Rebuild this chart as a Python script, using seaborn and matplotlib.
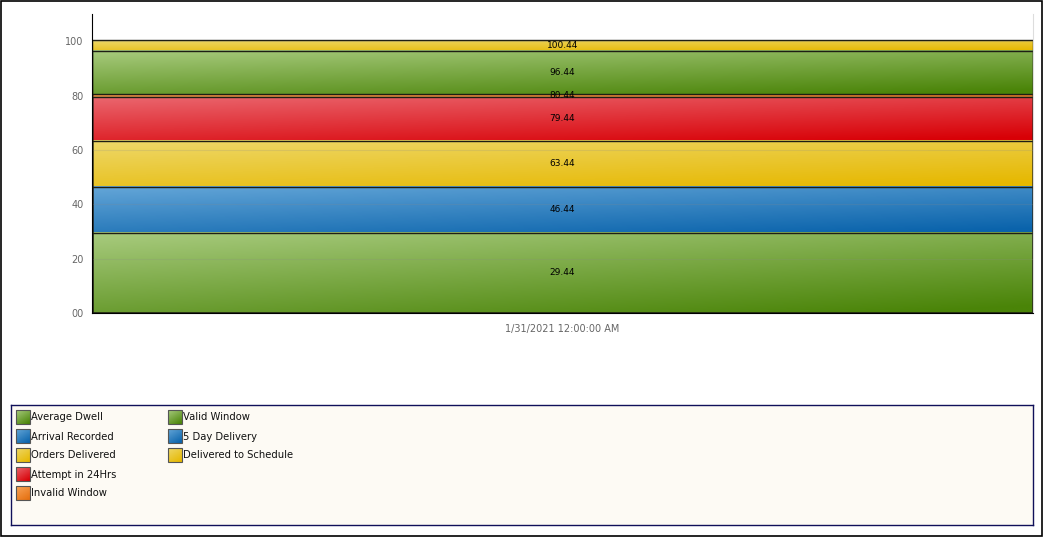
import numpy as np
import pandas as pd
import seaborn as sns
import matplotlib.pyplot as plt
from matplotlib.colors import to_rgb
from matplotlib.patches import Rectangle

category = '1/31/2021 12:00:00 AM'
series = ['Average Dwell', 'Arrival Recorded', 'Orders Delivered', 'Attempt in 24Hrs',
          'Invalid Window', 'Valid Window', '5 Day Delivery', 'Delivered to Schedule']
values = [29.44, 17, 17, 16, 1, 16, 0, 4]
yticks = [0, 20, 40, 60, 80, 100]
ytick_labels = ['00', '20', '40', '60', '80', '100']

# light (top-left) / dark (bottom-right) colour pairs per series
light = ['#a8cb7e', '#64a6d8', '#eed86a', '#ea666e', '#f9a55a', '#a8cb7e', '#64a6d8', '#eed86a']
dark = ['#4a8408', '#0a63ab', '#e6b800', '#d80006', '#e57010', '#4a8408', '#0a63ab', '#e6b800']

df = pd.DataFrame({'series': series, 'value': values})
df['top'] = df['value'].cumsum()
df['bottom'] = df['top'] - df['value']
df['cat'] = category

sns.set_style('white')
plt.rcParams['font.family'] = ['DejaVu Sans']

fig = plt.figure(figsize=(10.45, 5.37), dpi=100)
ax = fig.add_axes([92 / 1045, 1 - 313 / 537, 941 / 1045, 299 / 537])


def gradient(c0, c1, n=64):
    c0, c1 = np.array(to_rgb(c0)), np.array(to_rgb(c1))
    yy, xx = np.mgrid[0:1:n * 1j, 0:1:n * 1j]
    t = np.clip(0.65 * yy + 0.4 * xx, 0, 1)[..., None]
    return c0 * (1 - t) + c1 * t


# stacked bar: draw cumulative totals tallest first, shorter ones over them
for i in reversed(range(len(df))):
    row = df.iloc[i]
    if row['value'] <= 0:
        continue
    sns.barplot(data=df.iloc[[i]], x='cat', y='top', color=dark[i], width=1,
                edgecolor='#1e1e14', linewidth=1, ax=ax, errorbar=None)
    p = ax.patches[-1]
    p.set_facecolor('none')
    p.set_zorder(1.5)
    x0 = p.get_x()
    ax.imshow(gradient(light[i], dark[i]), aspect='auto', origin='upper',
              extent=[x0, x0 + p.get_width(), row['bottom'], row['top']],
              zorder=1, interpolation='bilinear')
    ax.text(0, (row['bottom'] + row['top']) / 2, f"{row['top']:.2f}",
            ha='center', va='center', fontsize=6.5, color='black', zorder=3)

ax.set_xlim(-0.5, 0.5)
ax.set_ylim(0, 110)
ax.set_yticks(yticks)
ax.set_yticklabels(ytick_labels)
ax.set_xticks([0])
ax.set_xticklabels([category])
ax.set_xlabel('')
ax.set_ylabel('')
ax.tick_params(axis='both', length=0, labelsize=7, labelcolor='#666666', pad=6)
ax.tick_params(axis='x', pad=8)
for y in yticks[1:]:
    ax.axhline(y, color='#888888', alpha=0.2, lw=0.8, zorder=2)
ax.spines['top'].set_visible(False)
ax.spines['right'].set_color('#dddddd')
ax.spines['left'].set_color('black')
ax.spines['bottom'].set_color('black')

# legend box
lax = fig.add_axes([11 / 1045, 1 - 525 / 537, 1022 / 1045, 120 / 537])
lax.set_xlim(0, 1022)
lax.set_ylim(120, 0)
lax.set_xticks([])
lax.set_yticks([])
lax.set_facecolor('#fdfaf4')
for s in lax.spines.values():
    s.set_color('#10105a')
    s.set_linewidth(1)
for i, name in enumerate(series):
    col, row = (0, i) if i < 5 else (1, i - 5)
    x = 5 + col * 152
    y = 5 + row * 19
    lax.imshow(gradient(light[i], dark[i]), aspect='auto', origin='upper',
               extent=[x, x + 14, y + 14, y], interpolation='bilinear')
    lax.add_patch(Rectangle((x, y), 14, 14, facecolor='none',
                            edgecolor='#555555', lw=0.8))
    lax.text(x + 15, y + 7.5, name, va='center', ha='left', fontsize=7.2, color='#111111')
lax.set_xlim(0, 1022)
lax.set_ylim(120, 0)

fig.patches.append(Rectangle((0.001, 0.002), 0.996, 0.996, transform=fig.transFigure,
                             fill=False, edgecolor='black', lw=1.2))

fig.savefig('out.png', dpi=100)
